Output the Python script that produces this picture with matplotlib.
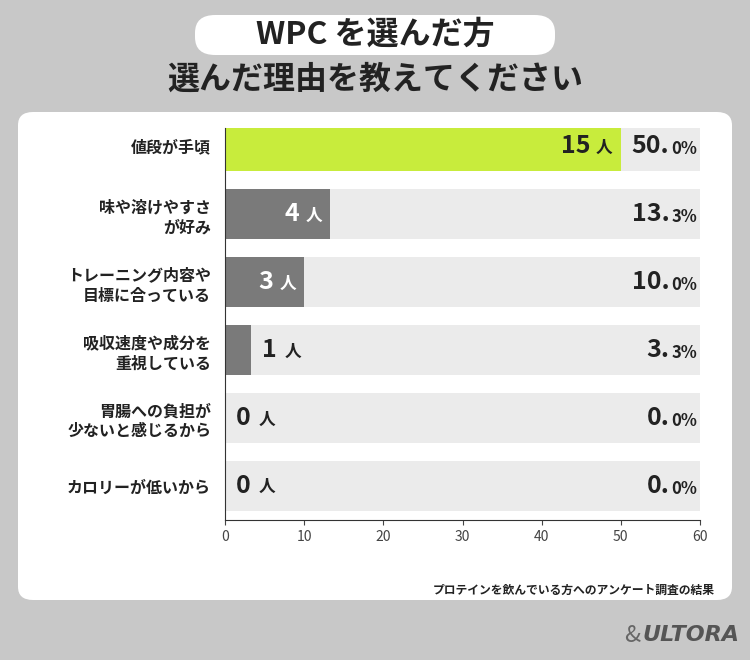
import matplotlib
matplotlib.use('Agg')
import matplotlib.pyplot as plt
from matplotlib.patches import FancyBboxPatch

plt.rcParams['font.family'] = ['Noto Sans CJK JP', 'DejaVu Sans']

labels = ['値段が手頃', '味や溶けやすさ\nが好み', 'トレーニング内容や\n目標に合っている',
          '吸収速度や成分を\n重視している', '胃腸への負担が\n少ないと感じるから', 'カロリーが低いから']
counts = [15, 4, 3, 1, 0, 0]
pct_big = ['50.', '13.', '10.', '3.', '0.', '0.']
pct_small = ['0%', '3%', '0%', '3%', '0%', '0%']
values = [50, 13.3, 10, 3.3, 0, 0]

bg = '#c8c8c8'
fig = plt.figure(figsize=(7.5, 6.6), dpi=100, facecolor=bg)

# white panel and title pill
fig.patches.append(FancyBboxPatch((18/750, 60/660), 714/750, 488/660, boxstyle='round,pad=0,rounding_size=0.02',
                                  transform=fig.transFigure, fc='white', ec='none', zorder=-5))
fig.patches.append(FancyBboxPatch((195/750, 605/660), 360/750, 40/660, boxstyle='round,pad=0,rounding_size=0.027',
                                  transform=fig.transFigure, fc='white', ec='none', zorder=-5))
fig.text(0.5, 625/660, 'WPC を選んだ方', ha='center', va='center', fontsize=23, fontweight='bold', color='#222')
fig.text(0.5, 580/660, '選んだ理由を教えてください', ha='center', va='center', fontsize=23, fontweight='bold', color='#222')

ax = fig.add_axes([225/750, 140/660, 475/750, 392/660])
ax.set_zorder(2)
ax.set_facecolor('none')
y = list(range(len(labels)))
ax.barh(y, [60]*len(y), height=0.735, color='#ebebeb', zorder=1)
colors = ['#c8ec3c'] + ['#7a7a7a'] * 5
ax.barh(y, values, height=0.735, color=colors, zorder=2)
ax.set_xlim(0, 60)
ax.set_ylim(5.5, -0.265)
ax.set_yticks(y)
ax.set_yticklabels(labels, fontsize=11.5, fontweight='bold', color='#222', linespacing=1.3)
ax.set_xticks(range(0, 61, 10))
ax.tick_params(axis='y', length=0, pad=10)
ax.tick_params(axis='x', labelsize=10, colors='#444')
for s in ['top', 'right']:
    ax.spines[s].set_visible(False)
ax.spines['left'].set_color('#333')
ax.spines['bottom'].set_color('#333')

for i, (c, v) in enumerate(zip(counts, values)):
    if v >= 8:
        col = '#222' if i == 0 else 'white'
        ax.annotate(f'{c}', (v, i), xytext=(-22, 0), textcoords='offset points', ha='right', va='center',
                    fontsize=18, fontweight='bold', color=col, zorder=3)
        ax.annotate('人', (v, i), xytext=(-6, -1), textcoords='offset points', ha='right', va='center',
                    fontsize=12, fontweight='bold', color=col, zorder=3)
    else:
        ax.annotate(f'{c}', (v, i), xytext=(8, 0), textcoords='offset points', ha='left', va='center',
                    fontsize=18, fontweight='bold', color='#222', zorder=3)
        ax.annotate('人', (v, i), xytext=(24, -1), textcoords='offset points', ha='left', va='center',
                    fontsize=12, fontweight='bold', color='#222', zorder=3)
    ax.annotate(pct_small[i], (60, i), xytext=(-2, -2), textcoords='offset points', ha='right', va='center',
                fontsize=12, fontweight='bold', color='#222', zorder=3)
    ax.annotate(pct_big[i], (60, i), xytext=(-22, 0), textcoords='offset points', ha='right', va='center',
                fontsize=18, fontweight='bold', color='#222', zorder=3)

fig.text(715/750, 70/660, 'プロテインを飲んでいる方へのアンケート調査の結果', ha='right', va='center',
         fontsize=8.5, fontweight='bold', color='#222')
fig.text(640/750, 25/660, '&', ha='right', va='center', fontsize=17, color='#666', style='italic')
fig.text(642/750, 25/660, 'ULTORA', ha='left', va='center', fontsize=16, fontweight='bold', color='#555',
         style='italic', family=['DejaVu Sans'])

fig.savefig('out.png', dpi=100, facecolor=bg)
